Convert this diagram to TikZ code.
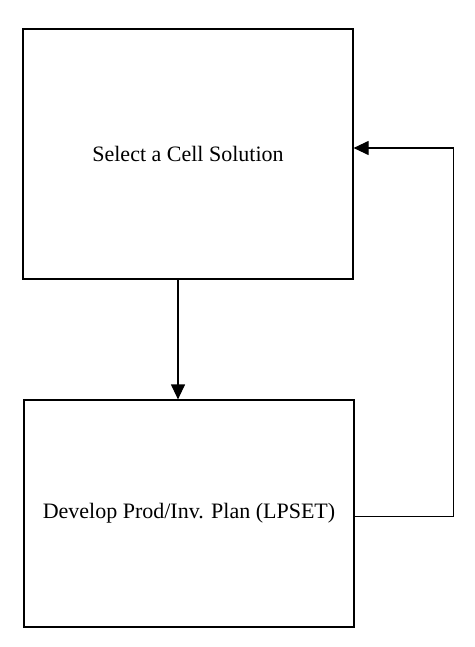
\documentclass[tikz,border=0pt]{standalone}
\usepackage{fontspec}
\setmainfont{Liberation Serif}
\usetikzlibrary{shapes,arrows,calc,arrows.meta}

\tikzset{
    stepbox/.style={draw, line width=1.2pt, inner sep=0pt, font=\fontsize{22}{26}\selectfont},
    flow/.style={line width=1.2pt, -{Triangle[length=15pt,width=14pt]}}
}

\begin{document}
\begin{tikzpicture}[x=1pt,y=1pt]
            \useasboundingbox (0,0) rectangle (474,-647);
            \draw (188,-154) node[stepbox, minimum width=330pt, minimum height=250pt] (select) {Select a Cell Solution};
            \draw (189,-513.5) node[stepbox, minimum width=330pt, minimum height=227pt] (develop) {Develop Prod/Inv. Plan (LPSET)};
            \draw[flow] ([xshift=-10pt]select.south) -- ([xshift=-10pt]select.south |- develop.north);
            \draw[flow] ([yshift=-3pt]develop.east) -| ([xshift=100pt,yshift=6pt]select.east) -- ([yshift=6pt]select.east);
        \end{tikzpicture}
\end{document}
